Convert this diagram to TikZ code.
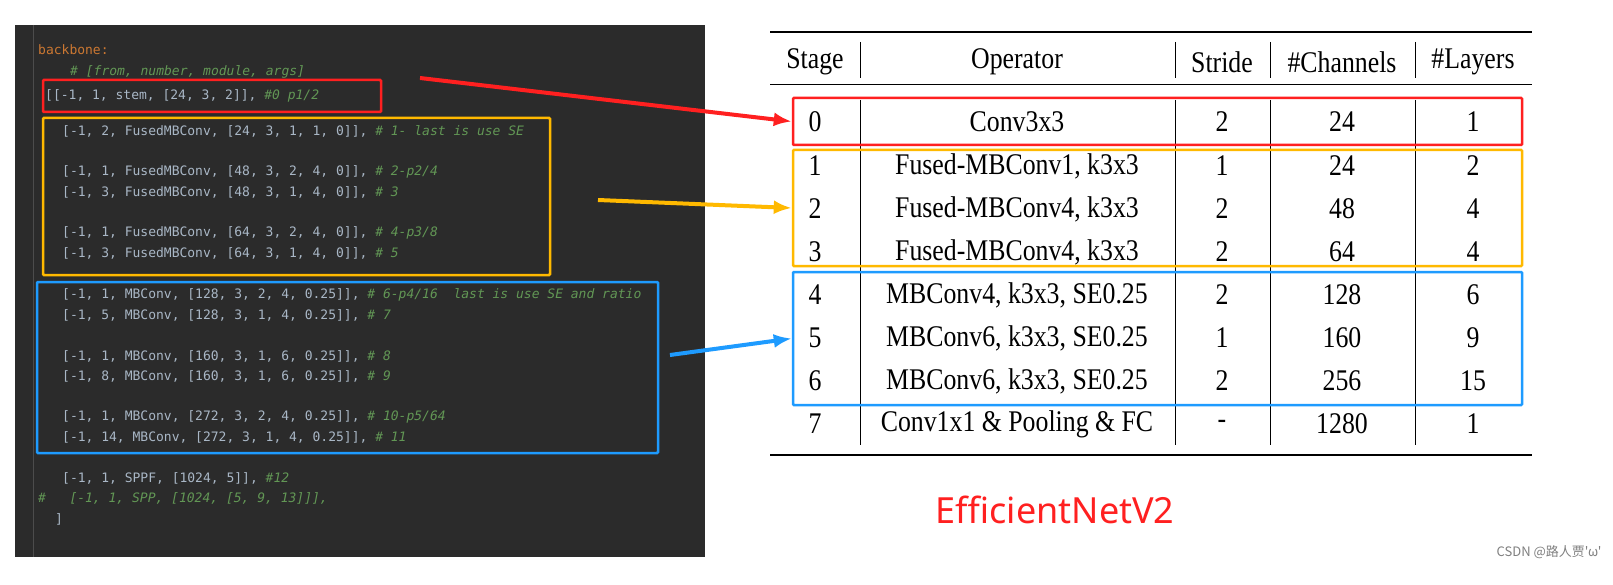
\documentclass[tikz,border=0pt]{standalone}
\usepackage{fontspec}
\setmainfont{Liberation Serif}
\newfontfamily\tablefont[FakeStretch=0.86]{Liberation Serif}
\newfontfamily\codefont{DejaVu Sans Mono}
\newfontfamily\labelfont{Noto Sans}
\newfontfamily\cjkfont{Noto Sans CJK SC}
\usetikzlibrary{arrows.meta,positioning}
\definecolor{panel}{HTML}{2B2B2B}
\definecolor{codetxt}{HTML}{A9B7C6}
\definecolor{comment}{HTML}{629755}
\definecolor{keyword}{HTML}{CC7832}
\definecolor{boxred}{HTML}{FF2020}
\definecolor{boxyellow}{HTML}{FFB900}
\definecolor{boxblue}{HTML}{1E9BFF}
\tikzset{
Code/.style={anchor=west, inner sep=0pt, text=codetxt, font=\codefont\fontsize{13}{15}\selectfont},
Cmt/.style={text=comment, font=\codefont\itshape\fontsize{13}{15}\selectfont},
Cell/.style={inner sep=0pt, font=\tablefont\fontsize{30}{32}\selectfont},
GroupBox/.style={draw, line width=2.5pt, rounded corners=1pt},
GroupArrow/.style={arrows={-Latex[length=18pt,width=14pt]}, line width=4pt},
}
\begin{document}
\begin{tikzpicture}[x=1pt,y=-1pt]
\useasboundingbox[fill=white] (0,0) rectangle (1613,585);
\fill[panel] (15,25) rectangle (705,557);
\draw[gray!60!black, line width=1pt] (33,25) -- (33,557);

% code lines
\node[Code, text=keyword] (bb) at (38,50) {backbone:};
\node[Code, Cmt] (c0) at (70,72) {\# [from, number, module, args]};
\node[Code] (l0) at (45,96) {[[-1, 1, stem, [24, 3, 2]], \textcolor{comment}{\itshape\#0 p1/2}};
\node[Code] (l1) at (62,131) {[-1, 2, FusedMBConv, [24, 3, 1, 1, 0]], \textcolor{comment}{\itshape\# 1- last is use SE}};
\node[Code] (l2) at (62,172) {[-1, 1, FusedMBConv, [48, 3, 2, 4, 0]], \textcolor{comment}{\itshape\# 2-p2/4}};
\node[Code] (l3) at (62,192) {[-1, 3, FusedMBConv, [48, 3, 1, 4, 0]], \textcolor{comment}{\itshape\# 3}};
\node[Code] (l4) at (62,233) {[-1, 1, FusedMBConv, [64, 3, 2, 4, 0]], \textcolor{comment}{\itshape\# 4-p3/8}};
\node[Code] (l5) at (62,253) {[-1, 3, FusedMBConv, [64, 3, 1, 4, 0]], \textcolor{comment}{\itshape\# 5}};
\node[Code] (l6) at (62,295) {[-1, 1, MBConv, [128, 3, 2, 4, 0.25]], \textcolor{comment}{\itshape\# 6-p4/16\ \ last is use SE and ratio}};
\node[Code] (l7) at (62,315) {[-1, 5, MBConv, [128, 3, 1, 4, 0.25]], \textcolor{comment}{\itshape\# 7}};
\node[Code] (l8) at (62,356) {[-1, 1, MBConv, [160, 3, 1, 6, 0.25]], \textcolor{comment}{\itshape\# 8}};
\node[Code] (l9) at (62,376) {[-1, 8, MBConv, [160, 3, 1, 6, 0.25]], \textcolor{comment}{\itshape\# 9}};
\node[Code] (l10) at (62,417) {[-1, 1, MBConv, [272, 3, 2, 4, 0.25]], \textcolor{comment}{\itshape\# 10-p5/64}};
\node[Code] (l11) at (62,437) {[-1, 14, MBConv, [272, 3, 1, 4, 0.25]], \textcolor{comment}{\itshape\# 11}};
\node[Code] (l12) at (62,478) {[-1, 1, SPPF, [1024, 5]], \textcolor{comment}{\itshape\#12}};
\node[Code, Cmt] (l13) at (38,498) {\#\ \ \ [-1, 1, SPP, [1024, [5, 9, 13]]],};
\node[Code] (l14) at (55,519) {]};

% code boxes
\draw[GroupBox, boxred] (43,80) rectangle (381,112);
\draw[GroupBox, boxyellow] (43,118) rectangle (550,275);
\draw[GroupBox, boxblue] (37,282) rectangle (658,453);
\coordinate (a0) at (420,78);
\coordinate (a1) at (598,200);
\coordinate (a2) at (670,355);

% table
\draw[line width=2.5pt] (770,32) -- (1532,32);
\draw[line width=1pt] (770,85) -- (1532,85);
\draw[line width=2.5pt] (770,455) -- (1532,455);
\foreach \x in {860,1175,1270,1415}
    \draw[line width=0.8pt] (\x,42) -- (\x,78) (\x,100) -- (\x,445);
\foreach \t/\x in {Stage/815,Operator/1017,Stride/1222,\#Channels/1342,\#Layers/1473}
    \node[Cell] (h\x) at (\x,62) {\t};
\foreach \s/\op/\st/\ch/\ly/\y in {0/Conv3x3/2/24/1/122,
    1/{Fused-MBConv1, k3x3}/1/24/2/166,
    2/{Fused-MBConv4, k3x3}/2/48/4/209,
    3/{Fused-MBConv4, k3x3}/2/64/4/252,
    4/{MBConv4, k3x3, SE0.25}/2/128/6/295,
    5/{MBConv6, k3x3, SE0.25}/1/160/9/338,
    6/{MBConv6, k3x3, SE0.25}/2/256/15/381,
    7/{Conv1x1 \& Pooling \& FC}/-/1280/1/424}
{
    \node[Cell] (s\s) at (815,\y) {\s};
    \node[Cell] (o\s) at (1017,\y) {\op};
    \node[Cell] (t\s) at (1222,\y) {\st};
    \node[Cell] (c\s) at (1342,\y) {\ch};
    \node[Cell] (n\s) at (1473,\y) {\ly};
}

% table boxes
\node[GroupBox, boxred, minimum width=729pt, minimum height=47pt] (r0) at (1157.5,121.5) {};
\node[GroupBox, boxyellow, minimum width=729pt, minimum height=116pt] (r1) at (1157.5,208) {};
\node[GroupBox, boxblue, minimum width=729pt, minimum height=133pt] (r2) at (1157.5,338.5) {};

\draw[GroupArrow, boxred] (a0) -- (r0.west);
\draw[GroupArrow, boxyellow] (a1) -- (r1.west);
\draw[GroupArrow, boxblue] (a2) -- (r2.west);

\node[text=boxred, font=\labelfont\fontsize{36}{40}\selectfont] (title) at (1055,510) {EfficientNetV2};
\node[text=gray, font=\cjkfont\fontsize{13}{15}\selectfont, anchor=east] (wm) at (1605,552) {CSDN @路人贾'ω'};
\end{tikzpicture}
\end{document}
